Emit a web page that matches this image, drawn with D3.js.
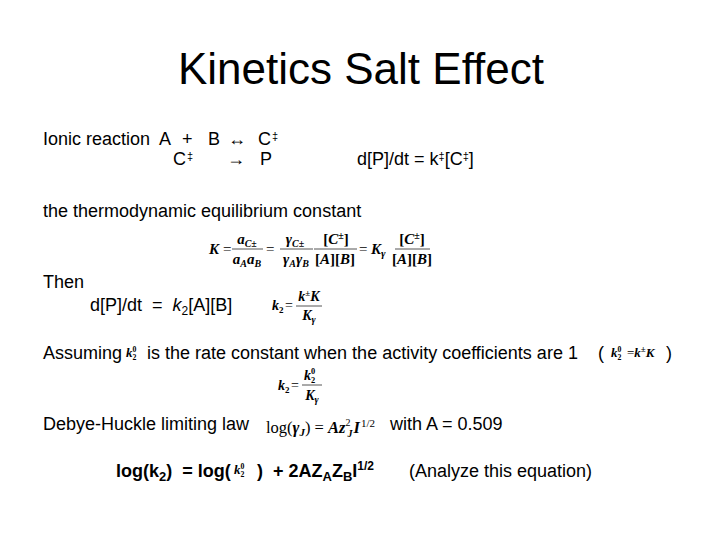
<!DOCTYPE html>
<html lang="en">
<head>
<meta charset="UTF-8"/>
<title>Kinetics Salt Effect</title>
<script src="https://d3js.org/d3.v7.min.js"></script>
<style>
  body { margin: 0; background: #fff; }
  text { white-space: pre; }
</style>
</head>
<body>
<script>
var w = 720;
var h = 540;

// slide texts
var titleText = "Kinetics Salt Effect";
var reactionLine1 = ["Ionic reaction", "A", "+", "B", "\u2194", "C"];
var reactionLine2 = ["C", "\u2192", "P"];
var dagger = "\u2021";
var equilText = "the thermodynamic equilibrium constant";
var thenText = "Then";
var assumeWords = ["Assuming", "is the rate constant when the activity coefficients are 1", "(", ")"];
var debyeWords = ["Debye-Huckle limiting law", "with A = 0.509"];
var analyzeText = "(Analyze this equation)";

// x positions of the reaction pieces
var line1X = [43, 159, 182, 208, 228, 258];
var line2X = [173, 227, 260];

var sans = "'Liberation Sans', Arial, sans-serif";
var serif = "'Liberation Serif', 'Times New Roman', serif";

var svg = d3.select("body")
    .append("svg")
    .attr("width", w)
    .attr("height", h);

svg.append("rect").attr("width", w).attr("height", h).attr("fill", "#fff");

// plain text helper
function txt(x, y, s, size, opts) {
    opts = opts || {};
    return svg.append("text")
        .attr("x", x).attr("y", y)
        .attr("font-family", opts.family || sans)
        .attr("font-size", size)
        .attr("font-weight", opts.weight || "normal")
        .attr("font-style", opts.style || "normal")
        .attr("text-anchor", opts.anchor || "start")
        .attr("fill", "#000")
        .text(s);
}

// rich text: parts with baseline shift s (+ down), size, weight, italic, dx
function rich(x, y, parts, base) {
    var t = svg.append("text")
        .attr("x", x).attr("y", y)
        .attr("font-family", base.family)
        .attr("font-size", base.size)
        .attr("font-weight", base.weight || "normal")
        .attr("font-style", base.style || "normal")
        .attr("text-anchor", base.anchor || "start")
        .attr("fill", "#000");
    var cur = 0;
    parts.forEach(function (p) {
        var s = p.s || 0;
        var ts = t.append("tspan").attr("dy", s - cur).text(p.t);
        cur = s;
        if (p.size) ts.attr("font-size", p.size);
        if (p.w) ts.attr("font-weight", p.w);
        if (p.i != null) ts.attr("font-style", p.i ? "italic" : "normal");
        if (p.dx) ts.attr("dx", p.dx);
    });
    return t;
}

// math helpers (serif, bold italic variables)
function mathAt(x, y, parts, size, anchor) {
    return rich(x, y, parts, { family: serif, size: size || 15, weight: "bold", style: "italic", anchor: anchor });
}
function bar(x1, x2, y) {
    svg.append("line").attr("x1", x1).attr("x2", x2).attr("y1", y).attr("y2", y)
        .attr("stroke", "#555").attr("stroke-width", 1);
}
function k20(x, y, size) {
    var sz = size || 14;
    return mathAt(x, y, [
        { t: "k" },
        { t: "0", s: -sz * 0.42, size: sz * 0.6, w: "bold", i: false },
        { t: "2", s: sz * 0.22, size: sz * 0.6, dx: -sz * 0.3, i: false }
    ], sz);
}
// C with small raised double dagger
function cDag(x, y) {
    return rich(x, y, [{ t: "C" }, { t: dagger, s: -5, size: 11, dx: 1 }], { family: sans, size: 18 });
}

// title
txt(361, 84, titleText, 44, { anchor: "middle" });

// reaction lines
reactionLine1.forEach(function (s, i) {
    if (s === "C") cDag(line1X[i], 145);
    else txt(line1X[i], 145, s, 18);
});
reactionLine2.forEach(function (s, i) {
    if (s === "C") cDag(line2X[i], 165);
    else txt(line2X[i], 165, s, 18);
});
rich(357, 165, [
    { t: "d[P]/dt = k" },
    { t: dagger, s: -5, size: 11 },
    { t: "[C", s: 0 },
    { t: dagger, s: -5, size: 11 },
    { t: "]", s: 0 }
], { family: sans, size: 18 });

txt(43, 217, equilText, 18);

// K = a_C / a_A a_B = ...
var e1 = 254, n1 = 244, d1 = 264, b1 = 249;
mathAt(209, e1, [{ t: "K" }]);
mathAt(223, e1, [{ t: "=", i: false, w: "normal" }]);
mathAt(247, n1, [{ t: "a" }, { t: "C\u00b1", s: 3, size: 10 }], 15, "middle");
bar(232, 263, b1);
mathAt(247, d1, [{ t: "a" }, { t: "A", s: 3, size: 10 }, { t: "a", s: 0 }, { t: "B", s: 3, size: 10 }], 15, "middle");
mathAt(266, e1, [{ t: "=", i: false, w: "normal" }]);
mathAt(295, n1, [{ t: "\u03b3" }, { t: "C\u00b1", s: 3, size: 10 }], 15, "middle");
bar(280, 313, b1);
mathAt(296, d1, [{ t: "\u03b3" }, { t: "A", s: 3, size: 10 }, { t: "\u03b3", s: 0 }, { t: "B", s: 3, size: 10 }], 15, "middle");
mathAt(336, n1, [{ t: "[", i: false }, { t: "C" }, { t: "\u00b1", s: -5, size: 10, i: false }, { t: "]", s: 0, i: false }], 15, "middle");
bar(314, 357, b1);
mathAt(335, d1, [{ t: "[", i: false }, { t: "A" }, { t: "][", i: false }, { t: "B" }, { t: "]", i: false }], 15, "middle");
mathAt(359, e1, [{ t: "=", i: false, w: "normal" }]);
mathAt(371, e1, [{ t: "K" }, { t: "\u03b3", s: 3, size: 11 }]);
mathAt(412, n1, [{ t: "[", i: false }, { t: "C" }, { t: "\u00b1", s: -5, size: 10, i: false }, { t: "]", s: 0, i: false }], 15, "middle");
bar(395, 430, b1);
mathAt(412, d1, [{ t: "[", i: false }, { t: "A" }, { t: "][", i: false }, { t: "B" }, { t: "]", i: false }], 15, "middle");

// Then
txt(43, 288, thenText, 18);
rich(90, 311, [
    { t: "d[P]/dt  =  " },
    { t: "k", i: true },
    { t: "2", s: 4, size: 12, i: false },
    { t: "[A][B]", s: 0 }
], { family: sans, size: 18 });

// k2 = k+K / Kgamma
mathAt(272, 310, [{ t: "k" }, { t: "2", s: 3, size: 9, i: false }], 14);
mathAt(285, 310, [{ t: "=", i: false, w: "normal" }], 14);
mathAt(309, 301, [{ t: "k" }, { t: "\u00b1", s: -5, size: 9, i: false }, { t: "K", s: 0 }], 14, "middle");
bar(296, 322, 306);
mathAt(309, 320, [{ t: "K" }, { t: "\u03b3", s: 3, size: 10 }], 14, "middle");

// Assuming ...
txt(43, 359, assumeWords[0], 18);
k20(126, 357, 13);
txt(147, 359, assumeWords[1], 18);
txt(598, 359, assumeWords[2], 18);
k20(611, 357, 13);
mathAt(627, 357, [{ t: "=", i: false, w: "normal" }, { t: "k" }, { t: "\u00b1", s: -5, size: 9, i: false }, { t: "K", s: 0 }], 13);
txt(666, 359, assumeWords[3], 18);

// k2 = k2^0 / Kgamma
mathAt(278, 390, [{ t: "k" }, { t: "2", s: 3, size: 9, i: false }], 14);
mathAt(291, 390, [{ t: "=", i: false, w: "normal" }], 14);
k20(304, 380, 14);
bar(302, 322, 385);
mathAt(312, 400, [{ t: "K" }, { t: "\u03b3", s: 3, size: 10 }], 14, "middle");

// Debye-Huckle
txt(43, 430, debyeWords[0], 18);
rich(266, 433, [
    { t: "log(" },
    { t: "\u03b3", i: true, w: "bold" },
    { t: "J", s: 3, size: 11, i: true, w: "bold" },
    { t: ") = ", s: 0 },
    { t: "Az", i: true, w: "bold" },
    { t: "2", s: -7, size: 10 },
    { t: "J", s: 4, size: 10, i: true, w: "bold", dx: -3 },
    { t: "I", s: 0, i: true, w: "bold", dx: 1 },
    { t: "1/2", s: -6, size: 11, dx: 1 }
], { family: serif, size: 16.5 });
txt(390, 430, debyeWords[1], 18);

// log(k2) = log(k2^0) + 2AZaZbI^1/2
rich(116, 477, [
    { t: "log(k" },
    { t: "2", s: 4, size: 13 },
    { t: ")  = log(", s: 0 }
], { family: sans, size: 18, weight: "bold" });
k20(234, 474, 13);
rich(257, 477, [
    { t: ")  + 2AZ" },
    { t: "A", s: 4, size: 13 },
    { t: "Z", s: 0 },
    { t: "B", s: 4, size: 13 },
    { t: "I", s: 0 },
    { t: "1/2", s: -7, size: 12 }
], { family: sans, size: 18, weight: "bold" });
txt(409, 477, analyzeText, 18);
</script>
</body>
</html>
